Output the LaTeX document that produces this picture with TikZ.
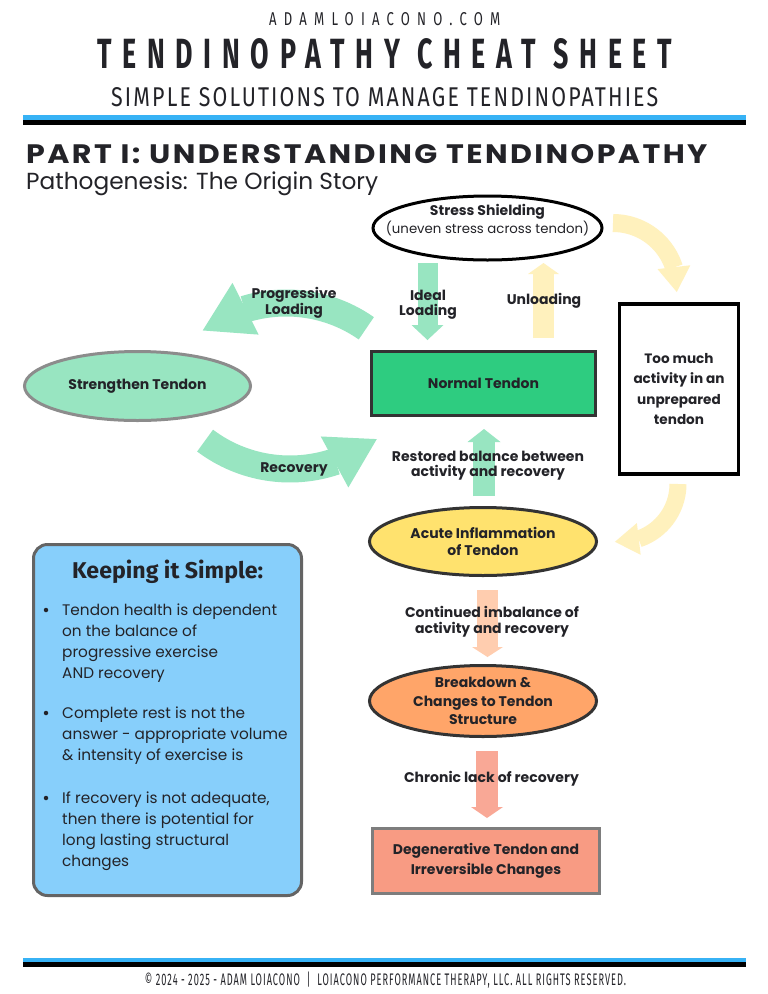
\documentclass[tikz,border=0pt]{standalone}
\usepackage{fontspec}
\usepackage{graphicx}
\setmainfont{Poppins}
\newfontfamily\condfont{Fira Sans}
\usetikzlibrary{shapes.geometric,arrows.meta,bending}
\definecolor{ink}{RGB}{35,35,40}
\definecolor{mint}{RGB}{152,229,193}
\definecolor{tendon}{RGB}{46,204,128}
\definecolor{nodeborder}{RGB}{51,51,51}
\definecolor{softgray}{RGB}{140,140,140}
\definecolor{lightyellow}{RGB}{255,241,189}
\definecolor{acute}{RGB}{255,226,110}
\definecolor{peach}{RGB}{255,205,175}
\definecolor{breakdown}{RGB}{255,165,105}
\definecolor{salmonarrow}{RGB}{249,168,150}
\definecolor{degen}{RGB}{248,155,131}
\definecolor{degenborder}{RGB}{125,125,125}
\definecolor{skyblue}{RGB}{135,207,251}
\definecolor{keepborder}{RGB}{100,100,100}
\definecolor{headblue}{RGB}{55,178,245}
\tikzset{
  lbl/.style={font=\fontsize{14}{16}\selectfont\bfseries, text=ink, align=center, inner sep=0pt},
  ovalnode/.style={ellipse, inner sep=0pt, line width=3pt, text=ink, align=center},
  boxnode/.style={rectangle, inner sep=0pt, line width=3pt, text=ink, align=center},
  bodytext/.style={font=\fontsize{15.3}{20.8}\selectfont, text=ink, align=left, inner sep=0pt, anchor=north west},
  bul/.style={circle, fill=ink, inner sep=0pt, minimum size=4.5pt},
  hdr/.style={inner sep=0pt, text=ink, anchor=north west},
  vtip/.style 2 args={-{Triangle[length=#1,width=#2,line width=0pt]}},
  ctip/.style 2 args={-{Triangle[length=#1,width=#2,line width=0pt,flex]}}
}
\begin{document}
\begin{tikzpicture}[x=1pt,y=-1pt]
\useasboundingbox (0,0) rectangle (768,994);
\fill[white] (0,0) rectangle (768,994);

% ---------- header ----------
\node[hdr] (site) at (269,12) {\resizebox{231pt}{13pt}{\condfont\addfontfeatures{LetterSpace=55}ADAMLOIACONO.COM}};
\node[hdr] (title) at (97,38) {\resizebox{575pt}{30pt}{\condfont\bfseries\addfontfeatures{LetterSpace=40}TENDINOPATHY CHEAT SHEET}};
\node[hdr] (subtitle) at (111,87) {\resizebox{547pt}{19pt}{\condfont\addfontfeatures{LetterSpace=10}SIMPLE SOLUTIONS TO MANAGE TENDINOPATHIES}};
\fill[headblue] (23,114.5) rectangle (746,119.5);
\fill[black] (23,119.5) rectangle (746,124.5);

\node[hdr] (part) at (26,144) {\resizebox{681pt}{19pt}{\bfseries\addfontfeatures{LetterSpace=8}PART I: UNDERSTANDING TENDINOPATHY}};
\node[inner sep=0pt, text=ink, anchor=base west] (patho) at (26,189) {\resizebox{352pt}{!}{\fontsize{20}{24}\selectfont Pathogenesis: The Origin Story}};

% ---------- arrow anchors ----------
\coordinate (ilA) at (427.5,263); \coordinate (ilB) at (427.5,340);
\coordinate (ulA) at (543.5,338); \coordinate (ulB) at (543.5,263);
\coordinate (rbA) at (484,496);   \coordinate (rbB) at (484,429);
\coordinate (ciA) at (487.5,590); \coordinate (ciB) at (487.5,657);
\coordinate (chA) at (487,751);   \coordinate (chB) at (487,818);
\coordinate (plS) at (366.3,328.3);
\coordinate (rcS) at (205.1,440.6);
\coordinate (ytS) at (613,223);
\coordinate (ybS) at (678,484);

% ---------- arrows ----------
\draw[mint, line width=20pt, vtip={15pt}{32pt}] (ilA) -- (ilB);
\draw[lightyellow, line width=21pt, vtip={11pt}{31pt}] (ulA) -- (ulB);
\draw[mint, line width=22pt, vtip={13pt}{33pt}] (rbA) -- (rbB);
\draw[peach, line width=21pt, vtip={10pt}{31pt}] (ciA) -- (ciB);
\draw[salmonarrow, line width=22pt, vtip={11pt}{32pt}] (chA) -- (chB);

\draw[mint, line width=27pt, ctip={48pt}{58pt}] (plS) arc[start angle=-55, end angle=-126.5, radius=140];
\draw[mint, line width=27pt, ctip={48pt}{58pt}] (rcS) arc[start angle=127, end angle=52, radius=141];
\draw[lightyellow, line width=18pt, ctip={25pt}{33pt}] (ytS) arc[start angle=-90, end angle=4.5, radius=64];
\draw[lightyellow, line width=17pt, ctip={24pt}{32pt}] (ybS) arc[start angle=0, end angle=95, radius=58];

% ---------- nodes ----------
\node[ovalnode, draw=black, fill=white, minimum width=229pt, minimum height=64pt] (stress) at (487.5,228) {};
\node[inner sep=0pt, text=ink, align=center, font=\fontsize{13.3}{18}\selectfont] (stressTxt) at (487.5,220) {{\fontsize{14}{18}\selectfont\bfseries Stress Shielding}\\(uneven stress across tendon)};
\node[boxnode, draw=nodeborder, fill=tendon, minimum width=224pt, minimum height=64pt, font=\fontsize{14}{16}\selectfont\bfseries] (normal) at (483.5,383.5) {Normal Tendon};
\node[ovalnode, draw=softgray, fill=mint, minimum width=226pt, minimum height=69pt, font=\fontsize{14}{16}\selectfont\bfseries] (strength) at (137.5,386) {Strengthen Tendon};
\node[boxnode, draw=black, line width=3.5pt, fill=white, minimum width=119pt, minimum height=170pt, font=\fontsize{13.6}{20.3}\selectfont\bfseries] (toomuch) at (679,389) {Too much\\activity in an\\unprepared\\tendon};
\node[ovalnode, draw=nodeborder, fill=acute, minimum width=227pt, minimum height=68pt, font=\fontsize{14}{17}\selectfont\bfseries] (acutenode) at (483,541.5) {Acute Inflammation\\of Tendon};
\node[ovalnode, draw=nodeborder, fill=breakdown, minimum width=227pt, minimum height=71pt, font=\fontsize{14}{18.5}\selectfont\bfseries] (breaknode) at (483,701) {Breakdown \&\\Changes to Tendon\\Structure};
\node[boxnode, draw=degenborder, line width=3.5pt, fill=degen, minimum width=227pt, minimum height=65pt, font=\fontsize{14}{20}\selectfont\bfseries] (degennode) at (486,861) {Degenerative Tendon and\\Irreversible Changes};

% ---------- arrow labels ----------
\node[lbl, font=\fontsize{14}{14}\selectfont\bfseries] (plLbl) at (294,303) {Progressive\\Loading};
\node[lbl] (rcLbl) at (294,469) {Recovery};
\node[lbl, font=\fontsize{14}{15}\selectfont\bfseries] (ilLbl) at (428,305) {Ideal\\Loading};
\node[lbl] (ulLbl) at (544,301) {Unloading};
\node[lbl, font=\fontsize{14}{15}\selectfont\bfseries] (rbLbl) at (488,466) {Restored balance between\\activity and recovery};
\node[lbl] (ciLbl) at (492,622) {Continued imbalance of\\activity and recovery};
\node[lbl] (chLbl) at (491.5,779) {Chronic lack of recovery};

% ---------- keeping it simple ----------
\node[draw=keepborder, fill=skyblue, line width=3pt, rounded corners=14pt, minimum width=268pt, minimum height=351pt, inner sep=0pt] (keep) at (167.5,720) {};
\node[inner sep=0pt, text=ink, anchor=base west] (keepTitle) at (72,578) {\resizebox{191pt}{18.5pt}{\condfont\bfseries Keeping it Simple:}};
\node[bul] (d1) at (46,610) {};
\node[bul] (d2) at (46,713) {};
\node[bul] (d3) at (46,798) {};
\node[bodytext] (t1) at (62,604) {Tendon health is dependent\\on the balance of\\progressive exercise\\AND recovery};
\node[bodytext] (t2) at (62,707) {Complete rest is not the\\answer - appropriate volume\\\& intensity of exercise is};
\node[bodytext] (t3) at (62,792) {If recovery is not adequate,\\then there is potential for\\long lasting structural\\changes};

% ---------- footer ----------
\fill[headblue] (23,957.5) rectangle (746,962);
\fill[black] (23,962) rectangle (746,967);
\node[inner sep=0pt, text=ink, anchor=base] (foot) at (385.5,985) {\resizebox{481pt}{!}{\condfont\addfontfeatures{LetterSpace=6}\fontsize{10}{12}\selectfont\addfontfeatures{FakeStretch=0.55}© 2024 - 2025 - ADAM LOIACONO \ | \ LOIACONO PERFORMANCE THERAPY, LLC. ALL RIGHTS RESERVED.}};
\end{tikzpicture}
\end{document}
